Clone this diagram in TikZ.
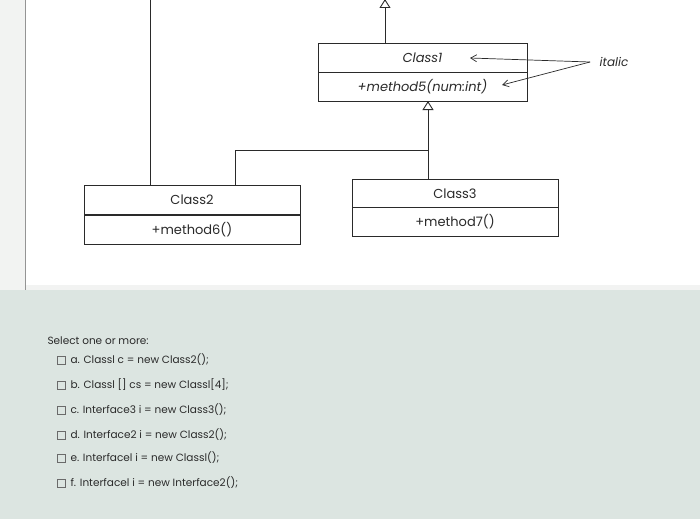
\documentclass[tikz,border=0pt]{standalone}
\usepackage{fontspec}
\setmainfont{Poppins}
\usetikzlibrary{arrows.meta}
\definecolor{bgtop}{HTML}{F2F3F2}
\definecolor{bgbot}{HTML}{DCE5E1}
\definecolor{ink}{HTML}{2A2A2A}
\tikzset{
  cls/.style={draw=ink,line width=0.9pt,fill=white,minimum height=29pt,inner sep=0pt,font=\fontsize{13}{15}\selectfont,text=ink},
  gen/.style={draw=ink,line width=0.9pt,-{Triangle[open,length=9pt,width=11pt]}},
  note/.style={draw=ink,line width=0.7pt,-{Straight Barb[length=6pt,width=7pt]}},
  opt/.style={anchor=west,font=\fontsize{10.5}{12}\selectfont,text=ink},
  box/.style={draw=ink!70,line width=0.6pt,minimum size=8pt,inner sep=0pt}
}
\begin{document}
\begin{tikzpicture}[x=1pt,y=-1pt]
\useasboundingbox (0,0) rectangle (700,519);
\fill[bgtop] (0,0) rectangle (700,290);
\fill[bgbot] (0,290) rectangle (700,519);
\fill[white] (25,0) rectangle (700,285);
\draw[ink!50,line width=0.6pt] (25,0) -- (25,290);
% Class1
\node[cls,minimum width=209pt] (c1a) at (422.5,57.5) {\itshape Class1};
\node[cls,minimum width=209pt] (c1b) at (422.5,86.5) {\itshape +method5(num:int)};
\node[cls,minimum width=216pt] (c2a) at (192,200) {Class2};
\node[cls,minimum width=216pt] (c2b) at (192,230) {+method6()};
\node[cls,minimum width=206pt] (c3a) at (455,194) {Class3};
\node[cls,minimum width=206pt] (c3b) at (455,222) {+method7()};
% generalisation up (off page)
\coordinate (topin) at (385,-1);
\draw[gen] (c1a.north -| topin) -- (topin);
\coordinate (j) at (428,150);
\coordinate (j2) at (235,150);
\draw[ink,line width=0.9pt] (c3a.north -| j) -- (j) -- (j2) -- (c2a.north -| j2);
\draw[gen] (j) -- (428,101);
\draw[ink,line width=0.9pt] (150,0) -- (c2a.north -| 150,0);
% italic note
\node[font=\fontsize{12}{14}\selectfont\itshape,text=ink] (it) at (614,62) {italic};
\coordinate (ns) at (590,62);
\draw[note] (ns) -- (470,58);
\draw[note] (ns) -- (502,85);
% options
\node[opt] (q) at (44,341) {Select one or more:};
\foreach \y/\t [count=\i] in {360/{a. Classl c = new Class2();},385/{b. Classl [] cs = new Classl[4];},410/{c. Interface3 i = new Class3();},435/{d. Interface2 i = new Class2();},458/{e. Interfacel i = new Classl();},483/{f. Interfacel i = new Interface2();}}{
  \node[box] (b\i) at (61,\y) {};
  \node[opt] (o\i) at (67,\y) {\t};
}
\end{tikzpicture}
\end{document}
